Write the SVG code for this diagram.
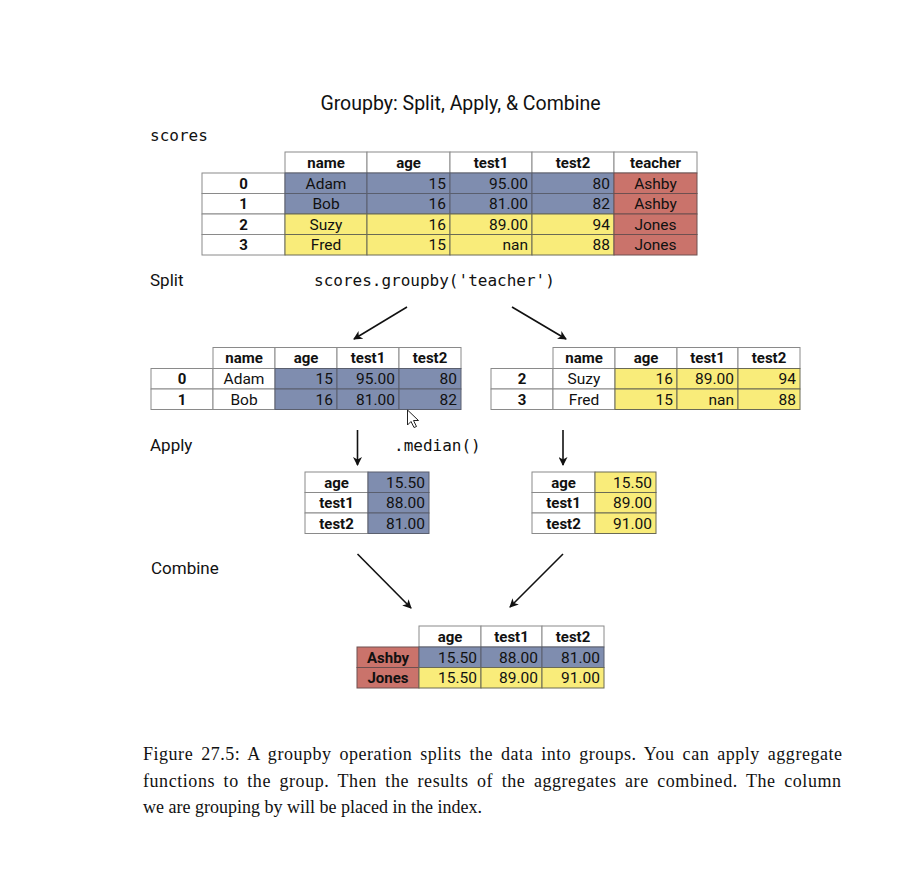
<svg xmlns="http://www.w3.org/2000/svg" width="901" height="880" viewBox="0 0 901 880">
<defs>
<style>
text{font-family:Roboto,"Liberation Sans",sans-serif;fill:#111;}
.t{font-size:19.5px;text-anchor:middle;}
.lbl{font-size:17px;}
.mono{font-family:"DejaVu Sans Mono","Liberation Mono",monospace;font-size:16px;}
.h{font-size:15px;font-weight:bold;text-anchor:middle;}
.b{font-size:15px;font-weight:bold;text-anchor:middle;}
.c{font-size:15.5px;text-anchor:middle;}
.r{font-size:15.5px;text-anchor:end;}
.cap{font-family:"Liberation Serif","DejaVu Serif",serif;font-size:18px;}
.w{fill:#fff;stroke:#8a8a8a;stroke-width:1;}
.bl{fill:#7f8daf;stroke:#5a5f6e;stroke-width:1;}
.ye{fill:#f9ec7a;stroke:#6a6a55;stroke-width:1;}
.rd{fill:#ca736b;stroke:#6e5050;stroke-width:1;}
.arr{stroke:#111;stroke-width:1.6;fill:none;marker-end:url(#ah);}
</style>
<marker id="ah" markerWidth="9" markerHeight="9" refX="8" refY="4.5" orient="auto" markerUnits="userSpaceOnUse">
<path d="M0,0 L9,4.5 L0,9 L2.5,4.5 z" fill="#111"/>
</marker>
</defs>
<rect width="901" height="880" fill="#fff"/>

<text class="t" x="460.5" y="110">Groupby: Split, Apply, &amp; Combine</text>
<text class="mono" x="150" y="141">scores</text>
<text class="lbl" x="150" y="286">Split</text>
<text class="mono" x="314" y="286">scores.groupby('teacher')</text>
<text class="lbl" x="150" y="451">Apply</text>
<text class="mono" x="394" y="451">.median()</text>
<text class="lbl" x="151" y="574">Combine</text>

<g id="scores-table">
<rect class="w" x="285" y="152" width="82" height="21"/>
<rect class="w" x="367" y="152" width="83" height="21"/>
<rect class="w" x="450" y="152" width="82" height="21"/>
<rect class="w" x="532" y="152" width="82" height="21"/>
<rect class="w" x="614" y="152" width="83" height="21"/>
<rect class="w" x="202" y="173" width="83" height="20.5"/>
<rect class="w" x="202" y="193.5" width="83" height="20.5"/>
<rect class="w" x="202" y="214" width="83" height="20.5"/>
<rect class="w" x="202" y="234.5" width="83" height="20.5"/>
<rect class="bl" x="285" y="173" width="82" height="20.5"/>
<rect class="bl" x="367" y="173" width="83" height="20.5"/>
<rect class="bl" x="450" y="173" width="82" height="20.5"/>
<rect class="bl" x="532" y="173" width="82" height="20.5"/>
<rect class="bl" x="285" y="193.5" width="82" height="20.5"/>
<rect class="bl" x="367" y="193.5" width="83" height="20.5"/>
<rect class="bl" x="450" y="193.5" width="82" height="20.5"/>
<rect class="bl" x="532" y="193.5" width="82" height="20.5"/>
<rect class="ye" x="285" y="214" width="82" height="20.5"/>
<rect class="ye" x="367" y="214" width="83" height="20.5"/>
<rect class="ye" x="450" y="214" width="82" height="20.5"/>
<rect class="ye" x="532" y="214" width="82" height="20.5"/>
<rect class="ye" x="285" y="234.5" width="82" height="20.5"/>
<rect class="ye" x="367" y="234.5" width="83" height="20.5"/>
<rect class="ye" x="450" y="234.5" width="82" height="20.5"/>
<rect class="ye" x="532" y="234.5" width="82" height="20.5"/>
<rect class="rd" x="614" y="173" width="83" height="20.5"/>
<rect class="rd" x="614" y="193.5" width="83" height="20.5"/>
<rect class="rd" x="614" y="214" width="83" height="20.5"/>
<rect class="rd" x="614" y="234.5" width="83" height="20.5"/>
<text class="h" x="326" y="168">name</text>
<text class="h" x="408.5" y="168">age</text>
<text class="h" x="491" y="168">test1</text>
<text class="h" x="573" y="168">test2</text>
<text class="h" x="655.5" y="168">teacher</text>
<text class="b" x="243.5" y="188.6">0</text>
<text class="b" x="243.5" y="209.1">1</text>
<text class="b" x="243.5" y="229.6">2</text>
<text class="b" x="243.5" y="250.1">3</text>
<text class="c" x="326" y="188.6">Adam</text>
<text class="r" x="446" y="188.6">15</text>
<text class="r" x="528" y="188.6">95.00</text>
<text class="r" x="610" y="188.6">80</text>
<text class="c" x="655.5" y="188.6">Ashby</text>
<text class="c" x="326" y="209.1">Bob</text>
<text class="r" x="446" y="209.1">16</text>
<text class="r" x="528" y="209.1">81.00</text>
<text class="r" x="610" y="209.1">82</text>
<text class="c" x="655.5" y="209.1">Ashby</text>
<text class="c" x="326" y="229.6">Suzy</text>
<text class="r" x="446" y="229.6">16</text>
<text class="r" x="528" y="229.6">89.00</text>
<text class="r" x="610" y="229.6">94</text>
<text class="c" x="655.5" y="229.6">Jones</text>
<text class="c" x="326" y="250.1">Fred</text>
<text class="r" x="446" y="250.1">15</text>
<text class="r" x="528" y="250.1">nan</text>
<text class="r" x="610" y="250.1">88</text>
<text class="c" x="655.5" y="250.1">Jones</text>
</g>

<g id="ashby-group">
<rect class="w" x="213" y="347.5" width="62" height="21"/>
<rect class="w" x="275" y="347.5" width="62" height="21"/>
<rect class="w" x="337" y="347.5" width="62" height="21"/>
<rect class="w" x="399" y="347.5" width="62" height="21"/>
<rect class="w" x="151" y="368.5" width="62" height="20.5"/>
<rect class="w" x="151" y="389" width="62" height="20.5"/>
<rect class="w" x="213" y="368.5" width="62" height="20.5"/>
<rect class="w" x="213" y="389" width="62" height="20.5"/>
<rect class="bl" x="275" y="368.5" width="62" height="20.5"/>
<rect class="bl" x="337" y="368.5" width="62" height="20.5"/>
<rect class="bl" x="399" y="368.5" width="62" height="20.5"/>
<rect class="bl" x="275" y="389" width="62" height="20.5"/>
<rect class="bl" x="337" y="389" width="62" height="20.5"/>
<rect class="bl" x="399" y="389" width="62" height="20.5"/>
<text class="h" x="244" y="363">name</text>
<text class="h" x="306" y="363">age</text>
<text class="h" x="368" y="363">test1</text>
<text class="h" x="430" y="363">test2</text>
<text class="b" x="182" y="384">0</text>
<text class="c" x="244" y="384">Adam</text>
<text class="r" x="333" y="384">15</text>
<text class="r" x="395" y="384">95.00</text>
<text class="r" x="457" y="384">80</text>
<text class="b" x="182" y="404.6">1</text>
<text class="c" x="244" y="404.6">Bob</text>
<text class="r" x="333" y="404.6">16</text>
<text class="r" x="395" y="404.6">81.00</text>
<text class="r" x="457" y="404.6">82</text>
</g>

<g id="jones-group">
<rect class="w" x="553" y="347.5" width="62" height="21"/>
<rect class="w" x="615" y="347.5" width="62" height="21"/>
<rect class="w" x="677" y="347.5" width="61" height="21"/>
<rect class="w" x="738" y="347.5" width="62" height="21"/>
<rect class="w" x="491" y="368.5" width="62" height="20.5"/>
<rect class="w" x="491" y="389" width="62" height="20.5"/>
<rect class="w" x="553" y="368.5" width="62" height="20.5"/>
<rect class="w" x="553" y="389" width="62" height="20.5"/>
<rect class="ye" x="615" y="368.5" width="62" height="20.5"/>
<rect class="ye" x="677" y="368.5" width="61" height="20.5"/>
<rect class="ye" x="738" y="368.5" width="62" height="20.5"/>
<rect class="ye" x="615" y="389" width="62" height="20.5"/>
<rect class="ye" x="677" y="389" width="61" height="20.5"/>
<rect class="ye" x="738" y="389" width="62" height="20.5"/>
<text class="h" x="584" y="363">name</text>
<text class="h" x="646" y="363">age</text>
<text class="h" x="707.5" y="363">test1</text>
<text class="h" x="769" y="363">test2</text>
<text class="b" x="522" y="384">2</text>
<text class="c" x="584" y="384">Suzy</text>
<text class="r" x="673" y="384">16</text>
<text class="r" x="734" y="384">89.00</text>
<text class="r" x="796" y="384">94</text>
<text class="b" x="522" y="404.6">3</text>
<text class="c" x="584" y="404.6">Fred</text>
<text class="r" x="673" y="404.6">15</text>
<text class="r" x="734" y="404.6">nan</text>
<text class="r" x="796" y="404.6">88</text>
</g>

<g id="cursor">
<path d="M407.5,410 L407.5,425 L411,421.5 L414,427.5 L416.5,426.5 L413.5,420.5 L418.5,420.5 Z" fill="#fff" stroke="#222" stroke-width="1"/>
</g>

<g id="ashby-median">
<rect class="w" x="305" y="472" width="63" height="20.5"/>
<rect class="w" x="305" y="492.5" width="63" height="20.5"/>
<rect class="w" x="305" y="513" width="63" height="20.5"/>
<rect class="bl" x="368" y="472" width="61" height="20.5"/>
<rect class="bl" x="368" y="492.5" width="61" height="20.5"/>
<rect class="bl" x="368" y="513" width="61" height="20.5"/>
<text class="b" x="336.5" y="487.6">age</text>
<text class="b" x="336.5" y="508.1">test1</text>
<text class="b" x="336.5" y="528.6">test2</text>
<text class="r" x="425" y="487.6">15.50</text>
<text class="r" x="425" y="508.1">88.00</text>
<text class="r" x="425" y="528.6">81.00</text>
</g>

<g id="jones-median">
<rect class="w" x="532" y="472" width="63" height="20.5"/>
<rect class="w" x="532" y="492.5" width="63" height="20.5"/>
<rect class="w" x="532" y="513" width="63" height="20.5"/>
<rect class="ye" x="595" y="472" width="61" height="20.5"/>
<rect class="ye" x="595" y="492.5" width="61" height="20.5"/>
<rect class="ye" x="595" y="513" width="61" height="20.5"/>
<text class="b" x="563.5" y="487.6">age</text>
<text class="b" x="563.5" y="508.1">test1</text>
<text class="b" x="563.5" y="528.6">test2</text>
<text class="r" x="652" y="487.6">15.50</text>
<text class="r" x="652" y="508.1">89.00</text>
<text class="r" x="652" y="528.6">91.00</text>
</g>

<g id="combined">
<rect class="w" x="419" y="626" width="62" height="21"/>
<rect class="w" x="481" y="626" width="61" height="21"/>
<rect class="w" x="542" y="626" width="62" height="21"/>
<rect class="rd" x="357" y="647" width="62" height="20.5"/>
<rect class="rd" x="357" y="667.5" width="62" height="20.5"/>
<rect class="bl" x="419" y="647" width="62" height="20.5"/>
<rect class="bl" x="481" y="647" width="61" height="20.5"/>
<rect class="bl" x="542" y="647" width="62" height="20.5"/>
<rect class="ye" x="419" y="667.5" width="62" height="20.5"/>
<rect class="ye" x="481" y="667.5" width="61" height="20.5"/>
<rect class="ye" x="542" y="667.5" width="62" height="20.5"/>
<text class="h" x="450" y="641.6">age</text>
<text class="h" x="511.5" y="641.6">test1</text>
<text class="h" x="573" y="641.6">test2</text>
<text class="b" x="388" y="662.6">Ashby</text>
<text class="r" x="477" y="662.6">15.50</text>
<text class="r" x="538" y="662.6">88.00</text>
<text class="r" x="600" y="662.6">81.00</text>
<text class="b" x="388" y="683.1">Jones</text>
<text class="r" x="477" y="683.1">15.50</text>
<text class="r" x="538" y="683.1">89.00</text>
<text class="r" x="600" y="683.1">91.00</text>
</g>

<g id="connectors">
<line class="arr" x1="407" y1="307" x2="354" y2="339"/>
<line class="arr" x1="512" y1="307" x2="566" y2="339"/>
<line class="arr" x1="357.5" y1="430" x2="357.5" y2="465"/>
<line class="arr" x1="563" y1="430" x2="563" y2="465"/>
<line class="arr" x1="357.5" y1="554" x2="411" y2="608"/>
<line class="arr" x1="563" y1="554" x2="510" y2="607"/>
</g>

<g id="caption">
<text class="cap" x="143" y="760" word-spacing="3" textLength="699" lengthAdjust="spacing">Figure 27.5: A groupby operation splits the data into groups. You can apply aggregate</text>
<text class="cap" x="143" y="787" word-spacing="3.5" textLength="698" lengthAdjust="spacing">functions to the group. Then the results of the aggregates are combined. The column</text>
<text class="cap" x="143" y="813" textLength="339" lengthAdjust="spacing">we are grouping by will be placed in the index.</text>
</g>
</svg>
